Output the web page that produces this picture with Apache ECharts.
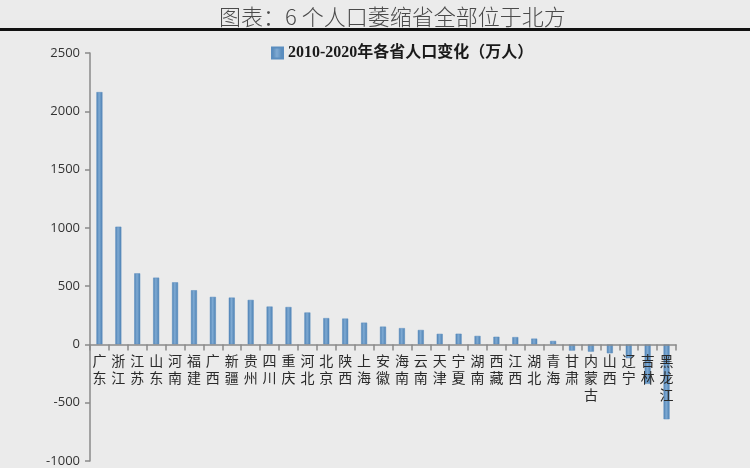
<!DOCTYPE html>
<html>
<head>
<meta charset="utf-8">
<script src="https://cdn.jsdelivr.net/npm/echarts@6/dist/echarts.min.js"></script>
<style>
html, body { margin: 0; padding: 0; background: #ebebeb; }
#chart { width: 750px; height: 468px; }
</style>
</head>
<body>
<div id="chart"></div>
<script>
// provinces, sorted by change
var provinces = ['广东', '浙江', '江苏', '山东', '河南', '福建', '广西', '新疆', '贵州', '四川', '重庆',
    '河北', '北京', '陕西', '上海', '安徽', '海南', '云南', '天津', '宁夏', '湖南', '西藏', '江西',
    '湖北', '青海', '甘肃', '内蒙古', '山西', '辽宁', '吉林', '黑龙江'];
// 2010-2020 population change (10k people)
var popChange = [2165, 1010, 610, 573, 533, 465, 408, 402, 382, 325, 321,
    274, 226, 222, 187, 153, 140, 124, 91, 92, 73, 66, 63,
    50, 30, -53, -62, -76, -118, -338, -642];
var yTicks = [-1000, 2500, 500];

var chart = echarts.init(document.getElementById('chart'), null, { renderer: 'canvas' });

var gridTop = 53, gridBottom = 7, chartH = 468;
// move category axis up to the zero line (labels follow it)
var plotH = chartH - gridTop - gridBottom;
var zeroOffset = -plotH * (0 - yTicks[0]) / (yTicks[1] - yTicks[0]);

var barColor = new echarts.graphic.LinearGradient(0, 0, 1, 0, [
    { offset: 0, color: '#4a7fb2' },
    { offset: 0.45, color: '#7faad3' },
    { offset: 1, color: '#4a7fb2' }
]);

var option = {
    backgroundColor: '#ebebeb',
    animation: false,
    title: {
        text: '图表：6 个人口萎缩省全部位于北方',
        left: 214,
        top: 1,
        textStyle: {
            fontFamily: 'Noto Sans CJK SC',
            fontWeight: 300,
            fontSize: 22,
            color: '#4a4a4a'
        }
    },
    graphic: [
        {
            type: 'rect',
            left: 0,
            top: 28,
            shape: { width: 750, height: 3 },
            style: { fill: '#111' }
        }
    ],
    legend: {
        left: 266,
        top: 40,
        itemWidth: 11,
        itemHeight: 11,
        itemGap: 4,
        icon: 'rect',
        textStyle: {
            fontFamily: 'Liberation Serif, Noto Sans CJK SC',
            fontWeight: 'bold',
            fontSize: 16,
            color: '#1a1a1a'
        },
        data: ['2010-2020年各省人口变化（万人）']
    },
    grid: {
        left: 90,
        right: 74,
        top: gridTop,
        bottom: gridBottom,
        containLabel: false
    },
    xAxis: {
        type: 'category',
        data: provinces,
        position: 'bottom',
        offset: zeroOffset,
        axisLine: { onZero: false, lineStyle: { color: '#8a8a8a', width: 1.5 } },
        axisTick: { show: true, length: 6, lineStyle: { color: '#8a8a8a', width: 1.5 } },
        axisLabel: {
            interval: 0,
            margin: 8,
            fontFamily: 'Noto Sans CJK SC',
            fontSize: 14,
            lineHeight: 17,
            color: '#2a2a2a',
            formatter: function (v) { return v.split('').join('\n'); }
        },
        z: 10
    },
    yAxis: {
        type: 'value',
        min: yTicks[0],
        max: yTicks[1],
        interval: yTicks[2],
        splitLine: { show: false },
        axisLine: { show: true, lineStyle: { color: '#8a8a8a', width: 1.5 } },
        axisTick: { show: true, length: 5, lineStyle: { color: '#8a8a8a', width: 1.5 } },
        axisLabel: {
            margin: 10,
            fontFamily: 'Open Sans, DejaVu Sans',
            fontSize: 13,
            color: '#333',
            formatter: function (v) { return String(v); }
        }
    },
    series: [
        {
            name: '2010-2020年各省人口变化（万人）',
            type: 'bar',
            data: popChange,
            barWidth: 6,
            itemStyle: { color: barColor, borderColor: '#5a8dbf', borderWidth: 0.5 },
            z: 2
        }
    ]
};

chart.setOption(option);
window.addEventListener('resize', chart.resize);
</script>
</body>
</html>
